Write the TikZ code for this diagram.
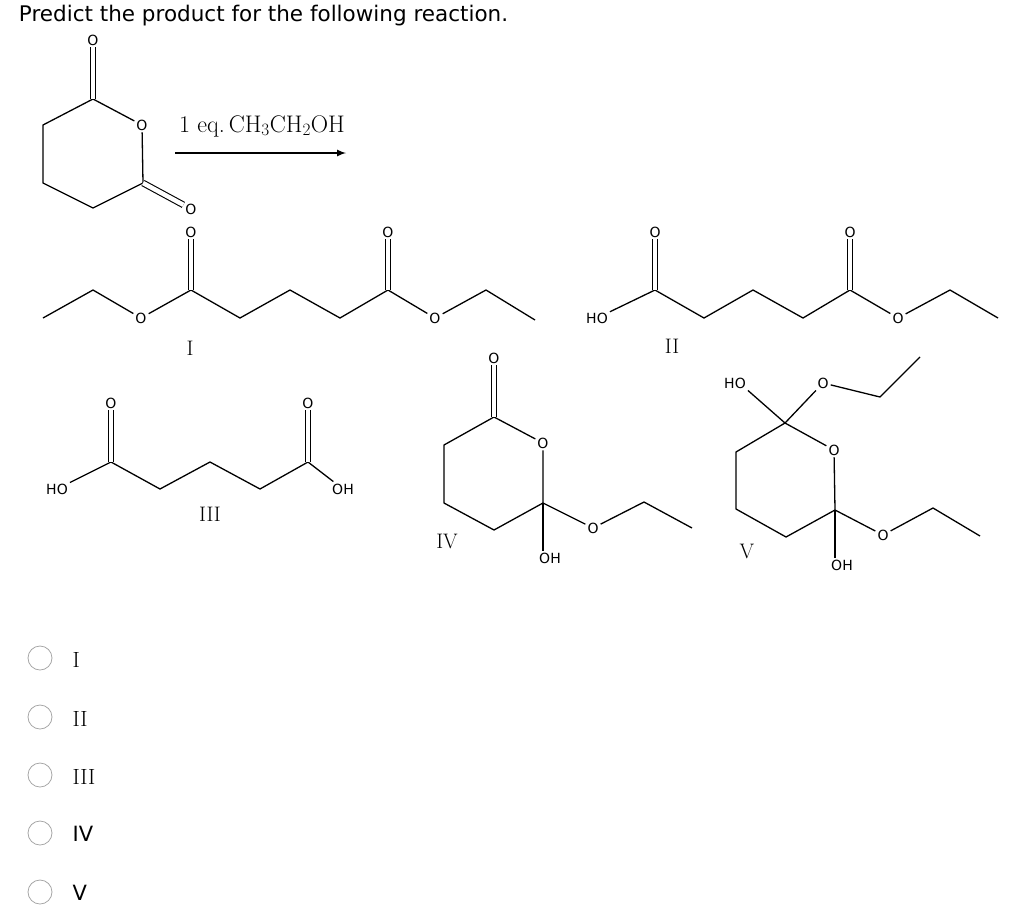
\documentclass[tikz,border=0pt]{standalone}
\usepackage{fontspec}
\setsansfont{DejaVu Sans}
\begin{document}
\begin{tikzpicture}[x=1pt,y=-1pt,line width=1.3pt,
  atm/.style={font=\sffamily\fontsize{14}{14}\selectfont,inner sep=1.5pt},
  lab/.style={font=\rmfamily\fontsize{21}{21}\selectfont,inner sep=0pt},
  dbl/.style={double distance=4.5pt,line width=1.1pt},
  radio/.style={circle,draw=black!35,line width=0.8pt,minimum size=24pt,inner sep=0pt},
  opt/.style={anchor=west,inner sep=0pt}]
\useasboundingbox (0,0) rectangle (1024,919);
\node[anchor=west,font=\sffamily\fontsize{21.5}{21.5}\selectfont] (title) at (15,16) {Predict the product for the following reaction.};
% starting material
\coordinate (s1) at (93,99); \node[atm] (so1) at (142,125) {O};
\coordinate (s2) at (143,183); \coordinate (s3) at (93,208);
\coordinate (s4) at (43,183); \coordinate (s5) at (43,125);
\node[atm] (sot) at (93,40) {O}; \node[atm] (sob) at (191,209) {O};
\draw (s1)--(so1)--(s2)--(s3)--(s4)--(s5)--(s1);
\draw[dbl] (s1)--(sot); \draw[dbl] (s2)--(sob);
\coordinate (a1) at (175,153); \coordinate (a2) at (346,153);
\draw[line width=2pt,-latex] (a1)--(a2);
\node[font=\rmfamily\fontsize{24}{24}\selectfont] (reag) at (262,126) {1 eq.\,CH$_3$CH$_2$OH};
% I
\coordinate (i1) at (43,318); \coordinate (i2) at (93,290); \node[atm] (io1) at (141,318) {O};
\coordinate (i3) at (191,290); \node[atm] (io2) at (191,232) {O};
\coordinate (i4) at (240,318); \coordinate (i5) at (290,290); \coordinate (i6) at (340,318);
\coordinate (i7) at (388,290); \node[atm] (io3) at (388,232) {O};
\node[atm] (io4) at (435,318) {O}; \coordinate (i8) at (486,290); \coordinate (i9) at (535,320);
\draw (i1)--(i2)--(io1)--(i3)--(i4)--(i5)--(i6)--(i7)--(io4)--(i8)--(i9);
\draw[dbl] (i3)--(io2); \draw[dbl] (i7)--(io3);
\node[lab] (lI) at (190,348) {I};
% II
\node[atm] (iiho) at (597,318) {HO}; \coordinate (ii1) at (655,290); \node[atm] (iio1) at (655,232) {O};
\coordinate (ii2) at (704,318); \coordinate (ii3) at (753,290); \coordinate (ii4) at (803,318);
\coordinate (ii5) at (850,290); \node[atm] (iio2) at (850,232) {O};
\node[atm] (iio3) at (898,318) {O}; \coordinate (ii6) at (950,290); \coordinate (ii7) at (998,318);
\draw (iiho)--(ii1)--(ii2)--(ii3)--(ii4)--(ii5)--(iio3)--(ii6)--(ii7);
\draw[dbl] (ii1)--(iio1); \draw[dbl] (ii5)--(iio2);
\node[lab] (lII) at (672,346) {II};
% III
\node[atm] (iiiho) at (57,489) {HO}; \coordinate (iii1) at (111,462); \node[atm] (iiio1) at (111,403) {O};
\coordinate (iii2) at (160,489); \coordinate (iii3) at (210,462); \coordinate (iii4) at (260,489);
\coordinate (iii5) at (308,462); \node[atm] (iiio2) at (308,403) {O};
\node[atm] (iiioh) at (343,489) {OH};
\draw (iiiho)--(iii1)--(iii2)--(iii3)--(iii4)--(iii5)--(iiioh);
\draw[dbl] (iii1)--(iiio1); \draw[dbl] (iii5)--(iiio2);
\node[lab] (lIII) at (210,514) {III};
% IV
\coordinate (iv1) at (494,417); \node[atm] (ivot) at (494,358) {O};
\node[atm] (ivo) at (543,443) {O}; \coordinate (iv2) at (543,503);
\coordinate (iv3) at (494,530); \coordinate (iv4) at (444,503); \coordinate (iv5) at (444,445);
\node[atm] (ivoh) at (550,558) {OH};
\node[atm] (ivoe) at (593,528) {O}; \coordinate (iv6) at (644,502); \coordinate (iv7) at (692,528);
\draw (iv1)--(ivo)--(iv2)--(iv3)--(iv4)--(iv5)--(iv1);
\draw[dbl] (iv1)--(ivot);
\draw (iv2)--(ivoh.north west -| iv2); \draw (iv2)--(ivoe)--(iv6)--(iv7);
\node[lab] (lIV) at (447,541) {IV};
% V
\coordinate (v1) at (785,423); \node[atm] (vho) at (735,383) {HO};
\node[atm] (vo1) at (823,383) {O}; \coordinate (v8) at (880,397); \coordinate (v9) at (920,357);
\node[atm] (vo) at (834,450) {O}; \coordinate (v2) at (835,510);
\coordinate (v3) at (786,537); \coordinate (v4) at (736,509); \coordinate (v5) at (736,452);
\node[atm] (voh) at (842,565) {OH};
\node[atm] (voe) at (883,535) {O}; \coordinate (v6) at (933,508); \coordinate (v7) at (980,536);
\draw (v1)--(vo)--(v2)--(v3)--(v4)--(v5)--(v1);
\draw (v1)--(vho.south east); \draw (v1)--(vo1)--(v8)--(v9);
\draw (v2)--(voh.north west -| v2); \draw (v2)--(voe)--(v6)--(v7);
\node[lab] (lV) at (747,551) {V};
% options
\node[radio] (r1) at (40,658) {}; \node[opt,font=\rmfamily\fontsize{22}{22}\selectfont] (t1) at (72,660) {I};
\node[radio] (r2) at (40,717) {}; \node[opt,font=\rmfamily\fontsize{22}{22}\selectfont] (t2) at (72,719) {II};
\node[radio] (r3) at (40,775) {}; \node[opt,font=\rmfamily\fontsize{22}{22}\selectfont] (t3) at (72,777) {III};
\node[radio] (r4) at (40,833) {}; \node[opt,font=\sffamily\fontsize{21}{21}\selectfont] (t4) at (72,834) {IV};
\node[radio] (r5) at (40,892) {}; \node[opt,font=\sffamily\fontsize{21}{21}\selectfont] (t5) at (72,893) {V};
\end{tikzpicture}
\end{document}
